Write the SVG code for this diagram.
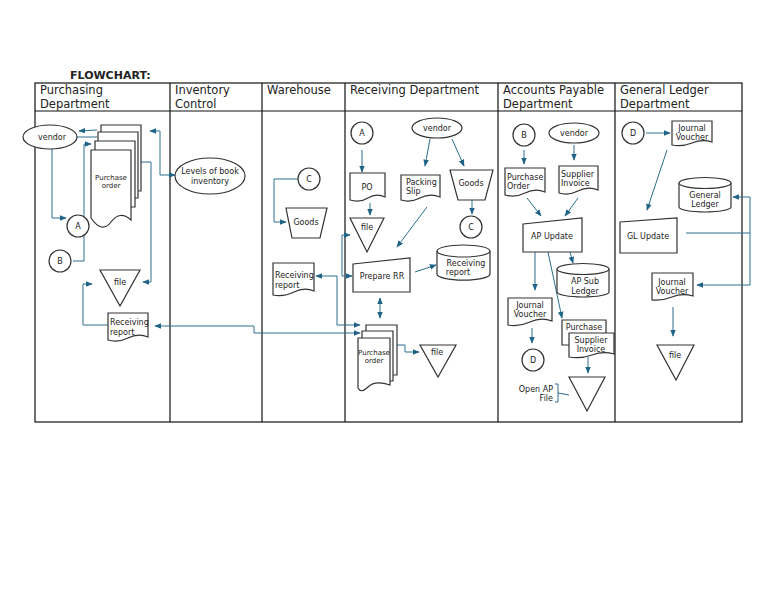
<svg xmlns="http://www.w3.org/2000/svg" width="768" height="594" viewBox="0 0 768 594">
<style>
text{font-family:"DejaVu Sans",Verdana,sans-serif;fill:#222}
.h{font-size:11.5px}
.s{font-size:8px}
.t{font-size:7px}
.n{fill:#fff;stroke:#333;stroke-width:1.2}
.c{fill:none;stroke:#2a6f8f;stroke-width:1;marker-end:url(#a)}
.l{fill:none;stroke:#2a6f8f;stroke-width:1}
.g{stroke:#111;stroke-width:1.2;fill:none}
</style>
<defs>
<marker id="a" viewBox="0 0 10 10" refX="9" refY="5" markerWidth="7" markerHeight="7" orient="auto-start-reverse"><path d="M0,1L10,5L0,9z" fill="#1f6387"/></marker>
</defs>
<rect width="768" height="594" fill="#fff"/>
<text x="70" y="79" font-size="11" font-weight="bold">FLOWCHART:</text>
<g id="table" class="g">
<rect x="35" y="83" width="707" height="339"/>
<line x1="35" y1="111" x2="742" y2="111"/>
<line x1="170" y1="83" x2="170" y2="422"/><line x1="262" y1="83" x2="262" y2="422"/>
<line x1="345" y1="83" x2="345" y2="422"/><line x1="498" y1="83" x2="498" y2="422"/>
<line x1="615" y1="83" x2="615" y2="422"/>
</g>
<g id="headers" class="h">
<text x="40" y="94">Purchasing</text><text x="40" y="108">Department</text>
<text x="175" y="94">Inventory</text><text x="175" y="108">Control</text>
<text x="267" y="94">Warehouse</text>
<text x="350" y="94">Receiving Department</text>
<text x="503" y="94">Accounts Payable</text><text x="503" y="108">Department</text>
<text x="620" y="94">General Ledger</text><text x="620" y="108">Department</text>
</g>
<g id="connectors">
<path class="c" d="M97,130L79,131"/>
<path class="l" d="M77,137L97,137"/>
<path class="c" d="M52,149V218H66"/>
<path class="c" d="M73,261H84V144H91"/>
<path class="c" d="M131,162H151V282H143"/>
<path class="c" d="M160,160V131H150"/>
<path class="c" d="M160,160V175H175"/>
<path class="c" d="M108,325H83V284H92"/>
<path class="c" d="M254,326H155"/>
<path class="c" d="M254,326V333H360"/>
<path class="c" d="M298,179H274V222H286"/>
<path class="c" d="M342,255V235H350"/>
<path class="c" d="M342,255V276H352"/>
<path class="c" d="M337,276H316"/>
<path class="c" d="M337,276V325H360"/>
<path class="c" d="M362,150V172"/>
<path class="c" d="M370,203V215"/>
<path class="c" d="M430,139L425,166"/>
<path class="c" d="M452,139L464,166"/>
<path class="c" d="M472,200V214"/>
<path class="c" d="M427,207L397,247"/>
<path class="c" d="M415,272L436,265"/>
<path class="c" marker-start="url(#a)" d="M380,298V318"/>
<path class="c" d="M393,345H405V352H419"/>
<path class="c" d="M524,150V164"/>
<path class="c" d="M574,145V160"/>
<path class="c" d="M527,198L541,216"/>
<path class="c" d="M578,198L565,216"/>
<path class="c" d="M535,252V290"/>
<path class="c" d="M570,252L573,263"/>
<path class="c" d="M548,252L562,318"/>
<path class="c" d="M532,328V343"/>
<path class="c" d="M588,357V373"/>
<path class="l" d="M569,395L558,393 M555,384H558V402H555"/>
<path class="c" d="M646,133H670"/>
<path class="c" d="M667,150L647,210"/>
<path class="l" d="M686,233H750"/>
<path class="c" d="M750,233V197H733"/>
<path class="c" d="M750,233V285H697"/>
<path class="c" d="M673,307V336"/>
</g>
<g id="vendor1"><ellipse class="n" cx="50" cy="137" rx="27" ry="12"/><text class="s" x="38" y="140">vendor</text></g>
<g id="po1">
<path class="n" d="M101,125H141V191H101z"/>
<path class="n" d="M98,132H138V198H98z"/>
<path class="n" d="M95,141H135V207H95z"/>
<path class="n" d="M91,150H131V220Q120,210 111,222T91,218z"/>
<text class="t" x="111" y="180" text-anchor="middle">Purchase</text><text class="t" x="111" y="188" text-anchor="middle">order</text>
</g>
<g id="A1"><circle class="n" cx="78" cy="226" r="11"/><text class="s" x="78" y="229" text-anchor="middle">A</text></g>
<g id="B1"><circle class="n" cx="60" cy="261" r="11"/><text class="s" x="60" y="264" text-anchor="middle">B</text></g>
<g id="file1"><path class="n" d="M100,270H140L120,306z"/><text class="s" x="120" y="285" text-anchor="middle">file</text></g>
<g id="rr1"><path class="n" d="M108,313H148V337Q138,333 128,338T108,340z"/><text class="s" x="110" y="325">Receiving</text><text class="s" x="110" y="335">report</text></g>
<g id="levels"><ellipse class="n" cx="210" cy="176" rx="35" ry="18"/><text class="s" x="210" y="174" text-anchor="middle">Levels of book</text><text class="s" x="210" y="184" text-anchor="middle">inventory</text></g>
<g id="C1"><circle class="n" cx="309" cy="179" r="11"/><text class="s" x="309" y="182" text-anchor="middle">C</text></g>
<g id="goods1"><path class="n" d="M286,208H327L320,238H292z"/><text class="s" x="306" y="225" text-anchor="middle">Goods</text></g>
<g id="rr2"><path class="n" d="M273,263H314V291Q304,287 294,292T273,295z"/><text class="s" x="275" y="278">Receiving</text><text class="s" x="275" y="288">report</text></g>
<g id="A2"><circle class="n" cx="362" cy="133" r="11"/><text class="s" x="362" y="136" text-anchor="middle">A</text></g>
<g id="po2"><path class="n" d="M350,173H385V197Q376,193 368,198T350,200z"/><text class="s" x="367" y="190" text-anchor="middle">PO</text></g>
<g id="file2"><path class="n" d="M350,218H384L367,252z"/><text class="s" x="367" y="230" text-anchor="middle">file</text></g>
<g id="vendor2"><ellipse class="n" cx="437" cy="128" rx="25" ry="10"/><text class="s" x="437" y="131" text-anchor="middle">vendor</text></g>
<g id="slip"><path class="n" d="M401,175H440V197Q430,193 420,198T401,200z"/><text class="s" x="406" y="185">Packing</text><text class="s" x="406" y="194">Slip</text></g>
<g id="goods2"><path class="n" d="M450,170H493L485,200H458z"/><text class="s" x="471" y="186" text-anchor="middle">Goods</text></g>
<g id="C2"><circle class="n" cx="471" cy="227" r="11"/><text class="s" x="471" y="230" text-anchor="middle">C</text></g>
<g id="prepare"><path class="n" d="M353,264L410,258V292H353z"/><text class="s" x="382" y="279" text-anchor="middle">Prepare RR</text></g>
<g id="rrdb"><path class="n" d="M437,251V274A26,6 0 0 0 490,274V251"/><ellipse class="n" cx="463.5" cy="251" rx="26.5" ry="6"/><text class="s" x="466" y="266" text-anchor="middle">Receiving</text><text class="s" x="458" y="275" text-anchor="middle">report</text></g>
<g id="po3">
<path class="n" d="M366,325H397V375H366z"/><path class="n" d="M362,331H393V381H362z"/>
<path class="n" d="M358,338H390V385Q375,380 368,387T358,388z"/>
<text class="t" x="374" y="355" text-anchor="middle">Purchase</text><text class="t" x="374" y="363" text-anchor="middle">order</text>
</g>
<g id="file3"><path class="n" d="M420,345H456L438,377z"/><text class="s" x="437" y="355" text-anchor="middle">file</text></g>
<g id="B2"><circle class="n" cx="524" cy="135" r="11"/><text class="s" x="524" y="138" text-anchor="middle">B</text></g>
<g id="vendor3"><ellipse class="n" cx="574" cy="133" rx="25" ry="10"/><text class="s" x="574" y="136" text-anchor="middle">vendor</text></g>
<g id="po4"><path class="n" d="M505,168H545V192Q535,188 525,193T505,195z"/><text class="s" x="507" y="180">Purchase</text><text class="s" x="507" y="189">Order</text></g>
<g id="si1"><path class="n" d="M559,166H598V190Q588,186 578,191T559,193z"/><text class="s" x="561" y="177">Supplier</text><text class="s" x="561" y="186">Invoice</text></g>
<g id="apupdate"><path class="n" d="M523,224L582,218V252H523z"/><text class="s" x="552" y="239" text-anchor="middle">AP Update</text></g>
<g id="apsub"><path class="n" d="M557,269V292A26,5 0 0 0 609,292V269"/><ellipse class="n" cx="583" cy="269" rx="26" ry="5.5"/><text class="s" x="585" y="284" text-anchor="middle">AP Sub</text><text class="s" x="585" y="294" text-anchor="middle">Ledger</text></g>
<g id="jv1"><path class="n" d="M508,298H552V321Q541,317 530,322T508,325z"/><text class="s" x="530" y="308" text-anchor="middle">Journal</text><text class="s" x="530" y="317" text-anchor="middle">Voucher</text></g>
<g id="D1"><circle class="n" cx="533" cy="360" r="11"/><text class="s" x="533" y="363" text-anchor="middle">D</text></g>
<g id="pur"><path class="n" d="M562,320H606V345H562z"/><text class="s" x="584" y="330" text-anchor="middle">Purchase</text></g>
<g id="si2"><path class="n" d="M569,333H614V354Q603,351 592,355T569,357z"/><text class="s" x="591" y="343" text-anchor="middle">Supplier</text><text class="s" x="591" y="352" text-anchor="middle">Invoice</text></g>
<g id="openap"><path class="n" d="M569,377H605L587,411z"/><text class="s" x="553" y="392" text-anchor="end">Open AP</text><text class="s" x="553" y="401" text-anchor="end">File</text></g>
<g id="D2"><circle class="n" cx="633" cy="133" r="11"/><text class="s" x="633" y="136" text-anchor="middle">D</text></g>
<g id="jv2"><path class="n" d="M672,121H712V142Q702,139 692,143T672,145z"/><text class="s" x="692" y="131" text-anchor="middle">Journal</text><text class="s" x="692" y="140" text-anchor="middle">Voucher</text></g>
<g id="gl"><path class="n" d="M679,183V207A26,5 0 0 0 731,207V183"/><ellipse class="n" cx="705" cy="183" rx="26" ry="5.5"/><text class="s" x="705" y="198" text-anchor="middle">General</text><text class="s" x="705" y="207" text-anchor="middle">Ledger</text></g>
<g id="glupdate"><path class="n" d="M620,222L677,218V253H620z"/><text class="s" x="648" y="239" text-anchor="middle">GL Update</text></g>
<g id="jv3"><path class="n" d="M652,273H693V296Q682,293 672,297T652,300z"/><text class="s" x="672" y="285" text-anchor="middle">Journal</text><text class="s" x="672" y="294" text-anchor="middle">Voucher</text></g>
<g id="file4"><path class="n" d="M657,345H694L676,380z"/><text class="s" x="675" y="358" text-anchor="middle">file</text></g>
</svg>
